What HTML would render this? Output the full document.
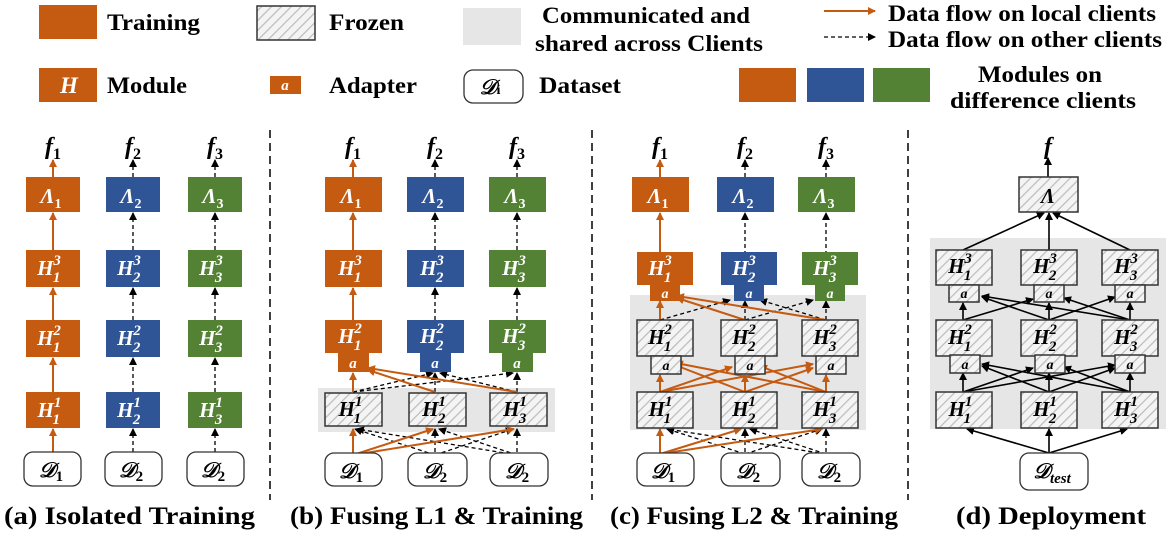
<!DOCTYPE html>
<html><head><meta charset="utf-8"><style>
body{margin:0;background:#fff}
svg{display:block}
.t{font-family:"Liberation Serif",serif;font-weight:bold;font-size:23px;fill:#000}
.m{font-family:"Liberation Serif",serif;font-weight:bold;font-style:italic;font-size:21px;text-anchor:middle}
.w{fill:#fff}
.o{stroke:#C55A11;stroke-width:2;fill:none;marker-end:url(#ao)}
.k{stroke:#000;stroke-width:1.3;fill:none;stroke-dasharray:4 3;marker-end:url(#ak)}
.s{stroke:#000;stroke-width:1.6;fill:none;marker-end:url(#ak)}
.fz{fill:url(#hatch);stroke:#333;stroke-width:1.5}
.d{fill:#fff;stroke:#333;stroke-width:1.3}
</style></head><body>
<svg width="1171" height="537" viewBox="0 0 1171 537" xmlns="http://www.w3.org/2000/svg">
<defs>
<pattern id="hatch" width="7" height="7" patternUnits="userSpaceOnUse" patternTransform="rotate(45)">
<rect width="7" height="7" fill="#f4f4f4"/><line x1="0" y1="0" x2="0" y2="7" stroke="#bdbdbd" stroke-width="2.5"/></pattern>
<marker id="ao" markerWidth="8" markerHeight="8" refX="7" refY="4" orient="auto" markerUnits="userSpaceOnUse"><path d="M0,0 L8,4 L0,8 z" fill="#C55A11"/></marker>
<marker id="ak" markerWidth="8" markerHeight="8" refX="7" refY="4" orient="auto" markerUnits="userSpaceOnUse"><path d="M0,0 L8,4 L0,8 z" fill="#000"/></marker>
</defs>

<!-- Legend -->
<rect x="39" y="5" width="58" height="34" fill="#C55A11"/>
<text x="107" y="30" class="t" textLength="93" lengthAdjust="spacingAndGlyphs">Training</text>
<rect x="257" y="6" width="58" height="34" class="fz"/>
<text x="329" y="30" class="t" textLength="75" lengthAdjust="spacingAndGlyphs">Frozen</text>
<rect x="463" y="8" width="58" height="37" fill="#e6e6e6"/>
<text x="542" y="23" class="t" textLength="208" lengthAdjust="spacingAndGlyphs">Communicated and</text>
<text x="535" y="51" class="t" textLength="228" lengthAdjust="spacingAndGlyphs">shared across Clients</text>
<line x1="824" y1="11" x2="875" y2="11" class="o"/>
<text x="888" y="21" class="t" textLength="268" lengthAdjust="spacingAndGlyphs">Data flow on local clients</text>
<line x1="824" y1="37" x2="875" y2="37" class="k"/>
<text x="888" y="47" class="t" textLength="274" lengthAdjust="spacingAndGlyphs">Data flow on other clients</text>
<rect x="39" y="68" width="58" height="34" fill="#C55A11"/>
<text x="69" y="93" class="m w" style="font-size:23px">H</text>
<text x="107" y="93" class="t" textLength="80" lengthAdjust="spacingAndGlyphs">Module</text>
<rect x="270" y="76" width="31" height="18" fill="#C55A11"/>
<text x="285" y="90" class="m w" style="font-size:15px">a</text>
<text x="329" y="93" class="t" textLength="88" lengthAdjust="spacingAndGlyphs">Adapter</text>
<rect x="464" y="70" width="59" height="33" rx="9" class="d"/>
<text x="490" y="94" class="m">𝒟<tspan font-size="14" font-style="normal">i</tspan></text>
<text x="539" y="93" class="t" textLength="82" lengthAdjust="spacingAndGlyphs">Dataset</text>
<rect x="739" y="68" width="57" height="34" fill="#C55A11"/>
<rect x="807" y="68" width="57" height="34" fill="#2F5597"/>
<rect x="873" y="68" width="57" height="34" fill="#548235"/>
<text x="978" y="82" class="t" textLength="124" lengthAdjust="spacingAndGlyphs">Modules on</text>
<text x="950" y="108" class="t" textLength="186" lengthAdjust="spacingAndGlyphs">difference clients</text>

<!-- separators -->
<line x1="270" y1="130" x2="270" y2="500" stroke="#000" stroke-width="1.5" stroke-dasharray="8 5"/>
<line x1="592" y1="130" x2="592" y2="500" stroke="#000" stroke-width="1.5" stroke-dasharray="8 5"/>
<line x1="908" y1="130" x2="908" y2="500" stroke="#000" stroke-width="1.5" stroke-dasharray="8 5"/>

<!-- gray backgrounds -->
<rect x="318" y="388" width="237" height="44" fill="#e6e6e6"/>
<rect x="630" y="295" width="236" height="135" fill="#e6e6e6"/>
<rect x="930" y="238" width="236" height="191" fill="#e6e6e6"/>

<!-- ========== Panel (a) ========== -->
<g>
<text x="53" y="154" class="m" style="font-size:24px">f<tspan font-size="16" font-style="normal" dy="5">1</tspan></text>
<text x="133" y="154" class="m" style="font-size:24px">f<tspan font-size="16" font-style="normal" dy="5">2</tspan></text>
<text x="215" y="154" class="m" style="font-size:24px">f<tspan font-size="16" font-style="normal" dy="5">3</tspan></text>
<line x1="53" y1="452" x2="53" y2="429" class="o"/><line x1="53" y1="392" x2="53" y2="358" class="o"/>
<line x1="53" y1="320" x2="53" y2="288" class="o"/><line x1="53" y1="250" x2="53" y2="213" class="o"/><line x1="53" y1="177" x2="53" y2="160" class="o"/>
<line x1="133" y1="452" x2="133" y2="429" class="k"/><line x1="133" y1="392" x2="133" y2="358" class="k"/>
<line x1="133" y1="320" x2="133" y2="288" class="k"/><line x1="133" y1="250" x2="133" y2="213" class="k"/><line x1="133" y1="177" x2="133" y2="160" class="k"/>
<line x1="215" y1="452" x2="215" y2="429" class="k"/><line x1="215" y1="392" x2="215" y2="358" class="k"/>
<line x1="215" y1="320" x2="215" y2="288" class="k"/><line x1="215" y1="250" x2="215" y2="213" class="k"/><line x1="215" y1="177" x2="215" y2="160" class="k"/>
<rect x="26" y="177" width="54" height="35" fill="#C55A11"/><text x="51" y="203" class="m w">Λ<tspan font-size="14" font-style="normal" dy="5">1</tspan></text>
<rect x="106" y="177" width="54" height="35" fill="#2F5597"/><text x="131" y="203" class="m w">Λ<tspan font-size="14" font-style="normal" dy="5">2</tspan></text>
<rect x="188" y="177" width="54" height="35" fill="#548235"/><text x="213" y="203" class="m w">Λ<tspan font-size="14" font-style="normal" dy="5">3</tspan></text>

<rect x="26" y="250" width="54" height="37" fill="#C55A11"/><text x="49" y="275" class="m w">H<tspan font-size="15" dy="-10">3</tspan><tspan font-size="15" dx="-8" dy="17">1</tspan></text>
<rect x="106" y="250" width="54" height="37" fill="#2F5597"/><text x="129" y="275" class="m w">H<tspan font-size="15" dy="-10">3</tspan><tspan font-size="15" dx="-8" dy="17">2</tspan></text>
<rect x="188" y="250" width="54" height="37" fill="#548235"/><text x="211" y="275" class="m w">H<tspan font-size="15" dy="-10">3</tspan><tspan font-size="15" dx="-8" dy="17">3</tspan></text>

<rect x="26" y="320" width="54" height="37" fill="#C55A11"/><text x="49" y="345" class="m w">H<tspan font-size="15" dy="-10">2</tspan><tspan font-size="15" dx="-8" dy="17">1</tspan></text>
<rect x="106" y="320" width="54" height="37" fill="#2F5597"/><text x="129" y="345" class="m w">H<tspan font-size="15" dy="-10">2</tspan><tspan font-size="15" dx="-8" dy="17">2</tspan></text>
<rect x="188" y="320" width="54" height="37" fill="#548235"/><text x="211" y="345" class="m w">H<tspan font-size="15" dy="-10">2</tspan><tspan font-size="15" dx="-8" dy="17">3</tspan></text>

<rect x="26" y="392" width="54" height="36" fill="#C55A11"/><text x="49" y="417" class="m w">H<tspan font-size="15" dy="-10">1</tspan><tspan font-size="15" dx="-8" dy="17">1</tspan></text>
<rect x="106" y="392" width="54" height="36" fill="#2F5597"/><text x="129" y="417" class="m w">H<tspan font-size="15" dy="-10">1</tspan><tspan font-size="15" dx="-8" dy="17">2</tspan></text>
<rect x="188" y="392" width="54" height="36" fill="#548235"/><text x="211" y="417" class="m w">H<tspan font-size="15" dy="-10">1</tspan><tspan font-size="15" dx="-8" dy="17">3</tspan></text>

<rect x="24" y="452" width="57" height="34" rx="9" class="d"/><text x="51" y="477" class="m">𝒟<tspan font-size="15" font-style="normal" dy="4">1</tspan></text>
<rect x="105" y="452" width="57" height="34" rx="9" class="d"/><text x="131" y="477" class="m">𝒟<tspan font-size="15" font-style="normal" dy="4">2</tspan></text>
<rect x="187" y="452" width="57" height="34" rx="9" class="d"/><text x="213" y="477" class="m">𝒟<tspan font-size="15" font-style="normal" dy="4">2</tspan></text>
</g>

<!-- ========== Panel (b) ========== -->
<g>
<text x="353" y="154" class="m" style="font-size:24px">f<tspan font-size="16" font-style="normal" dy="5">1</tspan></text>
<text x="435" y="154" class="m" style="font-size:24px">f<tspan font-size="16" font-style="normal" dy="5">2</tspan></text>
<text x="517" y="154" class="m" style="font-size:24px">f<tspan font-size="16" font-style="normal" dy="5">3</tspan></text>
<line x1="435" y1="455" x2="355" y2="429" class="k"/><line x1="517" y1="455" x2="357" y2="429" class="k"/>
<line x1="517" y1="455" x2="439" y2="429" class="k"/><line x1="435" y1="455" x2="513" y2="429" class="k"/>
<line x1="435" y1="452" x2="435" y2="429" class="k"/><line x1="517" y1="452" x2="517" y2="429" class="k"/>
<line x1="353" y1="455" x2="353" y2="429" class="o"/><line x1="353" y1="455" x2="433" y2="429" class="o"/><line x1="353" y1="455" x2="514" y2="429" class="o"/>
<line x1="353" y1="392" x2="433" y2="373" class="k"/><line x1="353" y1="392" x2="513" y2="373" class="k"/>
<line x1="517" y1="392" x2="440" y2="373" class="k"/>
<line x1="435" y1="392" x2="435" y2="373" class="k"/><line x1="517" y1="392" x2="517" y2="373" class="k"/>
<line x1="353" y1="392" x2="353" y2="373" class="o"/>
<line x1="435" y1="392" x2="368" y2="370" class="o"/><line x1="517" y1="392" x2="368" y2="368" class="o"/>
<line x1="353" y1="320" x2="353" y2="288" class="o"/><line x1="353" y1="250" x2="353" y2="213" class="o"/><line x1="353" y1="177" x2="353" y2="160" class="o"/>
<line x1="435" y1="320" x2="435" y2="288" class="k"/><line x1="435" y1="250" x2="435" y2="213" class="k"/><line x1="435" y1="177" x2="435" y2="160" class="k"/>
<line x1="517" y1="320" x2="517" y2="288" class="k"/><line x1="517" y1="250" x2="517" y2="213" class="k"/><line x1="517" y1="177" x2="517" y2="160" class="k"/>
<rect x="325" y="177" width="57" height="35" fill="#C55A11"/><text x="351" y="203" class="m w">Λ<tspan font-size="14" font-style="normal" dy="5">1</tspan></text>
<rect x="407" y="177" width="57" height="35" fill="#2F5597"/><text x="433" y="203" class="m w">Λ<tspan font-size="14" font-style="normal" dy="5">2</tspan></text>
<rect x="489" y="177" width="57" height="35" fill="#548235"/><text x="515" y="203" class="m w">Λ<tspan font-size="14" font-style="normal" dy="5">3</tspan></text>
<rect x="325" y="250" width="57" height="37" fill="#C55A11"/><text x="350" y="275" class="m w">H<tspan font-size="15" dy="-10">3</tspan><tspan font-size="15" dx="-8" dy="17">1</tspan></text>
<rect x="407" y="250" width="57" height="37" fill="#2F5597"/><text x="432" y="275" class="m w">H<tspan font-size="15" dy="-10">3</tspan><tspan font-size="15" dx="-8" dy="17">2</tspan></text>
<rect x="489" y="250" width="57" height="37" fill="#548235"/><text x="514" y="275" class="m w">H<tspan font-size="15" dy="-10">3</tspan><tspan font-size="15" dx="-8" dy="17">3</tspan></text>
<rect x="325" y="320" width="57" height="33" fill="#C55A11"/><rect x="338" y="352" width="31" height="20" fill="#C55A11"/>
<text x="350" y="343" class="m w">H<tspan font-size="15" dy="-10">2</tspan><tspan font-size="15" dx="-8" dy="17">1</tspan></text><text x="353" y="368" class="m w" style="font-size:15px">a</text>
<rect x="407" y="320" width="57" height="33" fill="#2F5597"/><rect x="420" y="352" width="31" height="20" fill="#2F5597"/>
<text x="432" y="343" class="m w">H<tspan font-size="15" dy="-10">2</tspan><tspan font-size="15" dx="-8" dy="17">2</tspan></text><text x="435" y="368" class="m w" style="font-size:15px">a</text>
<rect x="489" y="320" width="57" height="33" fill="#548235"/><rect x="502" y="352" width="31" height="20" fill="#548235"/>
<text x="514" y="343" class="m w">H<tspan font-size="15" dy="-10">2</tspan><tspan font-size="15" dx="-8" dy="17">3</tspan></text><text x="517" y="368" class="m w" style="font-size:15px">a</text>
<rect x="325" y="393" width="57" height="33" class="fz"/><text x="350" y="416" class="m">H<tspan font-size="15" dy="-10">1</tspan><tspan font-size="15" dx="-8" dy="17">1</tspan></text>
<rect x="409" y="393" width="57" height="33" class="fz"/><text x="434" y="416" class="m">H<tspan font-size="15" dy="-10">1</tspan><tspan font-size="15" dx="-8" dy="17">2</tspan></text>
<rect x="490" y="393" width="57" height="33" class="fz"/><text x="515" y="416" class="m">H<tspan font-size="15" dy="-10">1</tspan><tspan font-size="15" dx="-8" dy="17">3</tspan></text>
<rect x="325" y="453" width="57" height="33" rx="9" class="d"/><text x="351" y="478" class="m">𝒟<tspan font-size="15" font-style="normal" dy="4">1</tspan></text>
<rect x="408" y="453" width="59" height="33" rx="9" class="d"/><text x="435" y="478" class="m">𝒟<tspan font-size="15" font-style="normal" dy="4">2</tspan></text>
<rect x="490" y="453" width="58" height="33" rx="9" class="d"/><text x="517" y="478" class="m">𝒟<tspan font-size="15" font-style="normal" dy="4">2</tspan></text>
</g>

<!-- ========== Panel (c) ========== -->
<g>
<text x="660" y="154" class="m" style="font-size:24px">f<tspan font-size="16" font-style="normal" dy="5">1</tspan></text>
<text x="745" y="154" class="m" style="font-size:24px">f<tspan font-size="16" font-style="normal" dy="5">2</tspan></text>
<text x="826" y="154" class="m" style="font-size:24px">f<tspan font-size="16" font-style="normal" dy="5">3</tspan></text>
<line x1="745" y1="454" x2="667" y2="429" class="k"/><line x1="826" y1="454" x2="667" y2="429" class="k"/>
<line x1="826" y1="454" x2="750" y2="429" class="k"/><line x1="745" y1="454" x2="822" y2="429" class="k"/>
<line x1="745" y1="452" x2="745" y2="429" class="k"/><line x1="826" y1="452" x2="826" y2="429" class="k"/>
<line x1="660" y1="454" x2="660" y2="429" class="o"/><line x1="660" y1="454" x2="741" y2="429" class="o"/><line x1="660" y1="454" x2="822" y2="429" class="o"/>
<line x1="660" y1="392" x2="660" y2="375" class="o"/><line x1="660" y1="392" x2="732" y2="367" class="o"/><line x1="660" y1="392" x2="813" y2="364" class="o"/>
<line x1="745" y1="392" x2="745" y2="375" class="o"/><line x1="745" y1="392" x2="675" y2="365" class="o"/><line x1="745" y1="392" x2="813" y2="368" class="o"/>
<line x1="826" y1="392" x2="826" y2="375" class="o"/><line x1="826" y1="392" x2="676" y2="363" class="o"/><line x1="826" y1="392" x2="760" y2="366" class="o"/>
<line x1="660" y1="320" x2="730" y2="300" class="k"/><line x1="745" y1="320" x2="813" y2="300" class="k"/>
<line x1="826" y1="320" x2="760" y2="300" class="k"/>
<line x1="745" y1="320" x2="745" y2="301" class="k"/><line x1="826" y1="320" x2="826" y2="301" class="k"/>
<line x1="660" y1="320" x2="660" y2="301" class="o"/>
<line x1="745" y1="320" x2="677" y2="298" class="o"/><line x1="826" y1="320" x2="677" y2="296" class="o"/>
<line x1="660" y1="255" x2="660" y2="213" class="o"/><line x1="660" y1="177" x2="660" y2="160" class="o"/>
<line x1="745" y1="255" x2="745" y2="213" class="k"/><line x1="745" y1="177" x2="745" y2="160" class="k"/>
<line x1="826" y1="255" x2="826" y2="213" class="k"/><line x1="826" y1="177" x2="826" y2="160" class="k"/>
<rect x="632" y="177" width="57" height="35" fill="#C55A11"/><text x="658" y="203" class="m w">Λ<tspan font-size="14" font-style="normal" dy="5">1</tspan></text>
<rect x="717" y="177" width="57" height="35" fill="#2F5597"/><text x="743" y="203" class="m w">Λ<tspan font-size="14" font-style="normal" dy="5">2</tspan></text>
<rect x="798" y="177" width="57" height="35" fill="#548235"/><text x="824" y="203" class="m w">Λ<tspan font-size="14" font-style="normal" dy="5">3</tspan></text>
<rect x="637" y="252" width="56" height="33" fill="#C55A11"/><rect x="650" y="284" width="30" height="17" fill="#C55A11"/>
<text x="660" y="275" class="m w">H<tspan font-size="15" dy="-10">3</tspan><tspan font-size="15" dx="-8" dy="17">1</tspan></text><text x="665" y="298" class="m w" style="font-size:14px">a</text>
<rect x="721" y="252" width="56" height="33" fill="#2F5597"/><rect x="734" y="284" width="30" height="17" fill="#2F5597"/>
<text x="744" y="275" class="m w">H<tspan font-size="15" dy="-10">3</tspan><tspan font-size="15" dx="-8" dy="17">2</tspan></text><text x="749" y="298" class="m w" style="font-size:14px">a</text>
<rect x="802" y="252" width="56" height="33" fill="#548235"/><rect x="815" y="284" width="30" height="17" fill="#548235"/>
<text x="825" y="275" class="m w">H<tspan font-size="15" dy="-10">3</tspan><tspan font-size="15" dx="-8" dy="17">3</tspan></text><text x="830" y="298" class="m w" style="font-size:14px">a</text>
<rect x="637" y="320" width="56" height="36" class="fz"/><rect x="651" y="356" width="30" height="18" class="fz"/>
<text x="660" y="344" class="m">H<tspan font-size="15" dy="-10">2</tspan><tspan font-size="15" dx="-8" dy="17">1</tspan></text><text x="666" y="370" class="m" style="font-size:14px">a</text>
<rect x="721" y="320" width="56" height="36" class="fz"/><rect x="735" y="356" width="30" height="18" class="fz"/>
<text x="744" y="344" class="m">H<tspan font-size="15" dy="-10">2</tspan><tspan font-size="15" dx="-8" dy="17">2</tspan></text><text x="750" y="370" class="m" style="font-size:14px">a</text>
<rect x="802" y="320" width="56" height="36" class="fz"/><rect x="816" y="356" width="30" height="18" class="fz"/>
<text x="825" y="344" class="m">H<tspan font-size="15" dy="-10">2</tspan><tspan font-size="15" dx="-8" dy="17">3</tspan></text><text x="831" y="370" class="m" style="font-size:14px">a</text>
<rect x="637" y="392" width="56" height="36" class="fz"/><text x="660" y="416" class="m">H<tspan font-size="15" dy="-10">1</tspan><tspan font-size="15" dx="-8" dy="17">1</tspan></text>
<rect x="721" y="392" width="56" height="36" class="fz"/><text x="744" y="416" class="m">H<tspan font-size="15" dy="-10">1</tspan><tspan font-size="15" dx="-8" dy="17">2</tspan></text>
<rect x="802" y="392" width="56" height="36" class="fz"/><text x="825" y="416" class="m">H<tspan font-size="15" dy="-10">1</tspan><tspan font-size="15" dx="-8" dy="17">3</tspan></text>
<rect x="637" y="453" width="57" height="33" rx="9" class="d"/><text x="663" y="478" class="m">𝒟<tspan font-size="15" font-style="normal" dy="4">1</tspan></text>
<rect x="721" y="453" width="59" height="33" rx="9" class="d"/><text x="748" y="478" class="m">𝒟<tspan font-size="15" font-style="normal" dy="4">2</tspan></text>
<rect x="802" y="453" width="58" height="33" rx="9" class="d"/><text x="829" y="478" class="m">𝒟<tspan font-size="15" font-style="normal" dy="4">2</tspan></text>
</g>

<!-- ========== Panel (d) ========== -->
<g>
<text x="1048" y="154" class="m" style="font-size:24px">f</text>
<line x1="1048" y1="177" x2="1048" y2="158" class="s"/>
<line x1="963" y1="250" x2="1044" y2="213" class="s"/><line x1="1049" y1="250" x2="1049" y2="213" class="s"/><line x1="1130" y1="250" x2="1053" y2="213" class="s"/>
<line x1="963" y1="320" x2="963" y2="303" class="s"/><line x1="963" y1="320" x2="1033" y2="299" class="s"/>
<line x1="1049" y1="320" x2="1049" y2="303" class="s"/><line x1="1049" y1="320" x2="982" y2="297" class="s"/><line x1="1049" y1="320" x2="1115" y2="297" class="s"/>
<line x1="1130" y1="320" x2="1130" y2="303" class="s"/><line x1="1130" y1="320" x2="982" y2="296" class="s"/><line x1="1130" y1="320" x2="1064" y2="298" class="s"/>
<line x1="963" y1="392" x2="963" y2="373" class="s"/><line x1="963" y1="392" x2="1033" y2="368" class="s"/><line x1="963" y1="392" x2="1115" y2="365" class="s"/>
<line x1="1049" y1="392" x2="1049" y2="373" class="s"/><line x1="1049" y1="392" x2="982" y2="366" class="s"/><line x1="1049" y1="392" x2="1115" y2="368" class="s"/>
<line x1="1130" y1="392" x2="1130" y2="373" class="s"/><line x1="1130" y1="392" x2="982" y2="364" class="s"/><line x1="1130" y1="392" x2="1064" y2="367" class="s"/>
<line x1="1049" y1="453" x2="967" y2="429" class="s"/><line x1="1049" y1="453" x2="1049" y2="429" class="s"/><line x1="1049" y1="453" x2="1127" y2="429" class="s"/>
<rect x="1019" y="177" width="59" height="35" class="fz"/><text x="1048" y="203" class="m">Λ</text>
<rect x="936" y="250" width="56" height="35" class="fz"/><rect x="949" y="285" width="30" height="17" class="fz"/>
<text x="960" y="273" class="m">H<tspan font-size="15" dy="-10">3</tspan><tspan font-size="15" dx="-8" dy="17">1</tspan></text><text x="964" y="298" class="m" style="font-size:14px">a</text>
<rect x="1021" y="250" width="56" height="35" class="fz"/><rect x="1034" y="285" width="30" height="17" class="fz"/>
<text x="1045" y="273" class="m">H<tspan font-size="15" dy="-10">3</tspan><tspan font-size="15" dx="-8" dy="17">2</tspan></text><text x="1049" y="298" class="m" style="font-size:14px">a</text>
<rect x="1102" y="250" width="56" height="35" class="fz"/><rect x="1115" y="285" width="30" height="17" class="fz"/>
<text x="1126" y="273" class="m">H<tspan font-size="15" dy="-10">3</tspan><tspan font-size="15" dx="-8" dy="17">3</tspan></text><text x="1130" y="298" class="m" style="font-size:14px">a</text>
<rect x="936" y="320" width="56" height="36" class="fz"/><rect x="950" y="355" width="30" height="18" class="fz"/>
<text x="960" y="344" class="m">H<tspan font-size="15" dy="-10">2</tspan><tspan font-size="15" dx="-8" dy="17">1</tspan></text><text x="965" y="369" class="m" style="font-size:14px">a</text>
<rect x="1021" y="320" width="56" height="36" class="fz"/><rect x="1035" y="355" width="30" height="18" class="fz"/>
<text x="1045" y="344" class="m">H<tspan font-size="15" dy="-10">2</tspan><tspan font-size="15" dx="-8" dy="17">2</tspan></text><text x="1050" y="369" class="m" style="font-size:14px">a</text>
<rect x="1102" y="320" width="56" height="36" class="fz"/><rect x="1115" y="355" width="30" height="18" class="fz"/>
<text x="1126" y="344" class="m">H<tspan font-size="15" dy="-10">2</tspan><tspan font-size="15" dx="-8" dy="17">3</tspan></text><text x="1130" y="369" class="m" style="font-size:14px">a</text>
<rect x="936" y="392" width="56" height="36" class="fz"/><text x="960" y="416" class="m">H<tspan font-size="15" dy="-10">1</tspan><tspan font-size="15" dx="-8" dy="17">1</tspan></text>
<rect x="1021" y="392" width="56" height="36" class="fz"/><text x="1045" y="416" class="m">H<tspan font-size="15" dy="-10">1</tspan><tspan font-size="15" dx="-8" dy="17">2</tspan></text>
<rect x="1102" y="392" width="56" height="36" class="fz"/><text x="1126" y="416" class="m">H<tspan font-size="15" dy="-10">1</tspan><tspan font-size="15" dx="-8" dy="17">3</tspan></text>
<rect x="1020" y="453" width="68" height="37" rx="9" class="d"/><text x="1052" y="478" class="m">𝒟<tspan font-size="15" dy="5">test</tspan></text>
</g>

<!-- captions -->
<text x="4" y="524" class="t" style="font-size:25px" textLength="251" lengthAdjust="spacingAndGlyphs">(a)  Isolated Training</text>
<text x="290" y="524" class="t" style="font-size:25px" textLength="293" lengthAdjust="spacingAndGlyphs">(b) Fusing L1 &amp; Training</text>
<text x="610" y="524" class="t" style="font-size:25px" textLength="288" lengthAdjust="spacingAndGlyphs">(c) Fusing L2 &amp; Training</text>
<text x="956" y="524" class="t" style="font-size:25px" textLength="190" lengthAdjust="spacingAndGlyphs">(d) Deployment</text>
</svg>
</body></html>
